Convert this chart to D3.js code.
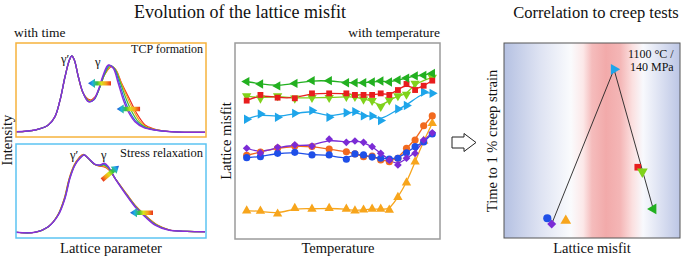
<!DOCTYPE html>
<html>
<head>
<meta charset="utf-8">
<script src="https://cdn.jsdelivr.net/npm/d3@7"></script>
<style>
  body { margin: 0; background: #fff; }
  svg { display: block; }
</style>
</head>
<body>
<div id="chart"></div>
<script>
// ---- data ----
// spectra (x: lattice parameter, relative units; y: intensity, relative units)
const spectraColors = ['#ec2a1e', '#f7a11a', '#3fbf2c', '#2a62e3', '#8a2fd8'];

const topShared = [[0, 5.6], [10, 7.4], [17, 12.8], [20.5, 21.6], [23.2, 39.4], [25.8, 64.1], [28.1, 81.9],
  [29.3, 86.2], [30.7, 81.9], [32.8, 64.1], [35.4, 46.5]];
const topTail = [[81.9, 5.6], [99.5, 5]];
const topGamma = [
  [[38.9, 39.4], [41.6, 42.6], [44.2, 53.5], [46.8, 67], [50.4, 74.8], [52.6, 71.3], [55.6, 57.1], [60, 39.4], [63.5, 25.2], [67.9, 12.8], [70, 10.5], [73.2, 8.2]],
  [[38.7, 38.5], [41.4, 41.2], [44, 52.5], [46.8, 66.8], [50, 75.2], [52.4, 71.8], [55.4, 57.1], [59.2, 39.4], [62.3, 26.4], [65.5, 16], [68.5, 11], [73.2, 8]],
  [[38.5, 38], [41.2, 40.2], [43.8, 51], [46.6, 66.5], [49.5, 75.8], [52, 72.5], [55, 57.1], [58.2, 39.4], [61, 26.9], [64.3, 16.3], [67.8, 10.8], [73.2, 7.6]],
  [[38.3, 37.6], [41, 39.6], [43.6, 50.5], [46.3, 66.5], [49, 76.2], [51.6, 72.8], [54.4, 57.1], [57.2, 39.4], [59.8, 26.9], [63.3, 16.3], [67.4, 10.3], [73.2, 7.4]],
  [[38.1, 37.6], [40.7, 39.4], [43.3, 50], [45.9, 66], [48.6, 76.6], [51.2, 73.1], [53.8, 57.1], [56.5, 39.4], [59.1, 26.9], [62.6, 16.3], [67, 10.3], [73.2, 7.4]]
];

const bottomShared = [[0, 6.1], [10, 6.1], [17, 12]];
const bottomTail = [[90, 7], [99.5, 6.7]];
const bottomCurves = [
  [[22, 24.5], [25.4, 42.2], [28, 63.5], [30.6, 77.7], [33.2, 85.5], [35.4, 89], [37.6, 85.5], [41.2, 78.4], [44, 76.4], [46.5, 75.5], [48.8, 72.5], [52.6, 62], [58, 47.6], [63.4, 33.3], [68.9, 22.7], [74.5, 13.8], [81, 8.5]],
  [[22, 24.5], [25.5, 42.2], [28.1, 63.5], [30.7, 77.7], [33.3, 85.2], [35.5, 88.6], [37.7, 85.2], [41.3, 78.4], [44, 76.7], [46.5, 76.5], [48.8, 73.4], [52.5, 62.5], [57.9, 47.6], [63.2, 33.3], [68.7, 22.7], [74.2, 13.8], [80.8, 8.5]],
  [[22.1, 24.5], [25.6, 42.2], [28.2, 63.5], [30.9, 77.7], [33.5, 85], [35.7, 88.5], [37.9, 85], [41.4, 78.4], [44.1, 77], [46.5, 77.6], [48.7, 74.4], [52.3, 63], [57.7, 47.6], [63, 33.3], [68.4, 22.7], [73.9, 13.8], [80.6, 8.5]],
  [[22.2, 24.5], [25.7, 42.2], [28.3, 63.5], [31, 77.7], [33.6, 84.9], [35.8, 88.4], [38, 84.9], [41.5, 78.4], [44.2, 77.4], [46.5, 78.6], [48.6, 75.2], [52.2, 63.3], [57.5, 47.6], [62.8, 33.3], [68.1, 22.7], [73.5, 13.8], [80.4, 8.5]],
  [[22.3, 24.5], [25.8, 42.2], [28.4, 63.5], [31.1, 77.7], [33.7, 84.8], [35.9, 88.3], [38.1, 84.8], [41.6, 78.4], [44.2, 77.7], [46.5, 79.5], [48.6, 75.9], [52.1, 63.5], [57.4, 47.6], [62.6, 33.3], [67.9, 22.7], [73.2, 13.8], [80.2, 8.5]]
];

// lattice misfit vs temperature (relative units)
const temperatures = [20, 100, 200, 300, 400, 500, 600, 650, 700, 750, 800, 850, 900, 950, 1000, 1050, 1100];
const misfitGreen = [80.3, 79.1, 78.1, 79.4, 80.8, 80.8, 79.7, 79.7, 79.7, 80.1, 80.6, 80.1, 81.1, 82.1, 83.2, 83.5, 84.5];
const misfitRed = [70.6, 73.5, 72.1, 71.8, 74.3, 74.3, 74.3, 73.5, 73.5, 73.5, 74.3, 73.5, 76.0, 79.1, 76.0, 78.2, 80.8];
const misfitLightGreen = [73.0, 71.8, 73.0, 71.8, 72.1, 72.1, 72.6, 72.6, 71.3, 70.6, 67.5, 70.9, 73.0, 73.8, 79.4, null, 82.4];
const misfitLightBlue = [61.1, 63.8, 62.1, 64.1, 65.5, 62.1, 64.4, 65.0, 62.8, 62.8, 60.4, null, 66.3, 68.1, null, 75.0, 74.3];
const misfitPurple = [46.3, 44.0, 46.8, 48.0, 47.4, 50.9, 49.3, 50.0, 49.3, 47.1, 43.7, 40.3, 37.8, 41.2, 43.7, 50.5, 54.2];
const misfitOrange = [42.7, 44.4, 46.4, 47.4, 47.2, 45.9, 44.5, 43.4, 42.0, 42.3, 40.3, 39.4, 41.2, 46.3, 50.5, 57.8, 62.8];
const misfitBlue = [41.5, 42.0, 43.7, 44.2, 42.9, 42.9, 40.7, 43.4, 42.9, 41.8, 41.2, 40.8, 41.2, 44.0, 47.1, 49.5, 53.6];
const misfitAmber = [14.4, 14.3, 12.8, 15.7, 15.3, 15.7, 15.3, 14.4, 14.9, 15.3, 15.3, 14.8, 21.3, 28.7, 39.4, 50.0, 59.0];

const seriesKeys = ['green', 'red', 'lightGreen', 'lightBlue', 'purple', 'orange', 'blue', 'amber'];
const seriesColors = ['#22b020', '#e81d1d', '#80d21b', '#1ea5ea', '#7b2bd6', '#f26a1f', '#1f4fe8', '#f7a51c'];
const seriesShapes = ['left', 'square', 'down', 'right', 'diamond', 'circle', 'circle', 'up'];

// creep: lattice misfit vs time to 1 % creep strain (relative units)
const creepMisfit = [84.8, 76.0, 78.6, 62.5, 27.1, null, 24.6, 35.1];
const creepTime = [14.9, 36.3, 34.0, 86.5, 7.2, null, 10.1, 8.9];
const creepTrend = ['purple', 'lightBlue', 'green'];

// ---- drawing ----
const FONT = "'Liberation Serif', 'Times New Roman', 'DejaVu Serif', serif";
const width = 685, height = 258;
const svg = d3.select('#chart').append('svg')
  .attr('width', width)
  .attr('height', height);
svg.append('rect').attr('width', width).attr('height', height).attr('fill', '#fff');
const defs = svg.append('defs');

function symbolPath (shape, size) {
  const type = { circle: d3.symbolCircle, square: d3.symbolSquare, diamond: d3.symbolSquare }[shape] || d3.symbolTriangle;
  return d3.symbol().type(type).size(size)();
}
function symbolRotate (shape) {
  return { left: -90, right: 90, down: 180, diamond: 45 }[shape] || 0;
}

// ---- spectra panels ----
const xSpec = d3.scaleLinear().domain([0, 100]).range([16, 206]);
const ySpecTop = d3.scaleLinear().domain([0, 100]).range([137, 43]);
const ySpecBottom = d3.scaleLinear().domain([0, 100]).range([238, 144]);

function arrowGradient (id) {
  const g = defs.append('linearGradient').attr('id', id).attr('gradientUnits', 'userSpaceOnUse')
    .attr('x1', 0).attr('x2', 1).attr('y1', 0).attr('y2', 0);
  [['0', '#e8321c'], ['0.22', '#f7a21b'], ['0.42', '#dbe31c'], ['0.6', '#3cc03c'], ['0.8', '#1fb0e0'], ['1', '#1f4fd8']]
    .forEach(s => g.append('stop').attr('offset', s[0]).attr('stop-color', s[1]));
  return g;
}

function drawArrow (g, x1, y1, x2, y2, id) {
  const L = Math.hypot(x2 - x1, y2 - y1);
  const ang = Math.atan2(y2 - y1, x2 - x1) * 180 / Math.PI;
  const grad = arrowGradient(id);
  grad.attr('x2', L);
  const h = 7, w = 4.6, t = 2.2;
  g.append('path')
    .attr('transform', `translate(${x1},${y1}) rotate(${ang})`)
    .attr('d', `M0,${-t}L${L - h},${-t}L${L - h},${-w}L${L},0L${L - h},${w}L${L - h},${t}L0,${t}Z`)
    .attr('fill', `url(#${id})`);
}

function spectraPanel (yScale, curves, border, clipId) {
  const [top, bottom] = [yScale.range()[1], yScale.range()[0]];
  defs.append('clipPath').attr('id', clipId).append('rect')
    .attr('x', 16).attr('y', top).attr('width', 190).attr('height', bottom - top);
  const line = d3.line().x(d => xSpec(d[0])).y(d => yScale(d[1])).curve(d3.curveCatmullRom);
  const g = svg.append('g').attr('clip-path', `url(#${clipId})`);
  g.selectAll('path').data(curves).enter().append('path')
    .attr('d', line)
    .attr('fill', 'none')
    .attr('stroke', (d, i) => spectraColors[i])
    .attr('stroke-width', (d, i) => i === curves.length - 1 ? 1.4 : 1.2)
    .attr('stroke-linejoin', 'round');
  svg.append('rect')
    .attr('x', 16).attr('y', top).attr('width', 190).attr('height', bottom - top)
    .attr('fill', 'none').attr('stroke', border).attr('stroke-width', 1.5);
}

spectraPanel(ySpecTop, topGamma.map(gm => topShared.concat(gm, topTail)), '#f6b33c', 'clipTop');
spectraPanel(ySpecBottom, bottomCurves.map(c => bottomShared.concat(c, bottomTail)), '#5cc4f2', 'clipBottom');

const ann = svg.append('g');
drawArrow(ann, xSpec(50), ySpecTop(57.1), xSpec(37.9), ySpecTop(57.1), 'ar1');
drawArrow(ann, xSpec(65.3), ySpecTop(29.8), xSpec(53), ySpecTop(29.8), 'ar2');
drawArrow(ann, xSpec(45.3), ySpecBottom(61.7), xSpec(54.2), ySpecBottom(76.9), 'ar3');
drawArrow(ann, xSpec(72.1), ySpecBottom(26.9), xSpec(60), ySpecBottom(26.9), 'ar4');

function label (x, y, text, size, anchor, rotate) {
  const t = svg.append('text')
    .attr('x', x).attr('y', y)
    .attr('font-family', FONT)
    .attr('font-size', size + 'px')
    .attr('fill', '#111')
    .attr('text-anchor', anchor || 'start')
    .text(text);
  if (rotate) t.attr('transform', `rotate(${rotate},${x},${y})`);
  return t;
}

label(61, 63, 'γ′', 12.5);
label(95, 66, 'γ', 12.5);
label(203, 53, 'TCP formation', 12, 'end');
label(70, 159, 'γ′', 12.5);
label(101, 159, 'γ', 12.5);
label(203, 157, 'Stress relaxation', 12.5, 'end');

// ---- misfit vs temperature ----
const xT = d3.scaleLinear().domain([-48, 1145]).range([235, 440]);
const yM = d3.scaleLinear().domain([0, 100]).range([239, 43]);
const misfitSeries = [misfitGreen, misfitRed, misfitLightGreen, misfitLightBlue, misfitPurple, misfitOrange, misfitBlue, misfitAmber]
  .map((vals, i) => ({
    key: seriesKeys[i],
    color: seriesColors[i],
    shape: seriesShapes[i],
    points: temperatures.map((t, j) => ({ t: t, v: vals[j] })).filter(p => p.v !== null)
  }));
const drawOrder = [7, 5, 6, 4, 3, 2, 1, 0];

svg.append('rect')
  .attr('x', 235).attr('y', 43).attr('width', 205).attr('height', 196)
  .attr('fill', '#fff').attr('stroke', '#9b9b9b').attr('stroke-width', 1.5);

const mLine = d3.line().x(d => xT(d.t)).y(d => yM(d.v)).curve(d3.curveBasis);
const mG = svg.append('g');
drawOrder.forEach(i => {
  const s = misfitSeries[i];
  mG.append('path')
    .attr('d', mLine(s.points))
    .attr('fill', 'none')
    .attr('stroke', s.color)
    .attr('stroke-width', 1.3);
});
drawOrder.forEach(i => {
  const s = misfitSeries[i];
  const sz = s.shape === 'circle' ? 40 : s.shape === 'square' ? 34 : s.shape === 'diamond' ? 30 : 38;
  mG.selectAll(null).data(s.points).enter().append('path')
    .attr('d', symbolPath(s.shape, sz))
    .attr('transform', d => `translate(${xT(d.t)},${yM(d.v)}) rotate(${symbolRotate(s.shape)})`)
    .attr('fill', s.color);
});

// ---- creep correlation ----
const xC = d3.scaleLinear().domain([0, 100]).range([504, 680]);
const yC = d3.scaleLinear().domain([0, 100]).range([238, 43]);
const bg = defs.append('linearGradient').attr('id', 'creepBg').attr('x1', 0).attr('x2', 1).attr('y1', 0).attr('y2', 0);
[['0', '#b5c1e2'], ['0.2', '#dde2f2'], ['0.38', '#fafbfd'], ['0.45', '#fce8e8'], ['0.5', '#f5bcbc'],
  ['0.58', '#f2aaaa'], ['0.66', '#f4b6b6'], ['0.73', '#fbe0e0'], ['0.79', '#f8f9fd'], ['1', '#bcc6e5']]
  .forEach(s => bg.append('stop').attr('offset', s[0]).attr('stop-color', s[1]));

svg.append('rect')
  .attr('x', 504).attr('y', 43).attr('width', 176).attr('height', 195)
  .attr('fill', 'url(#creepBg)').attr('stroke', '#555').attr('stroke-width', 1);

const creepPts = seriesKeys.map((k, i) => ({
  key: k, color: seriesColors[i], shape: seriesShapes[i], m: creepMisfit[i], t: creepTime[i]
})).filter(d => d.m !== null);

const trendPts = creepTrend.map(k => creepPts.find(d => d.key === k));
svg.append('path')
  .attr('d', d3.line().x(d => xC(d.m)).y(d => yC(d.t))(trendPts))
  .attr('fill', 'none')
  .attr('stroke', '#222')
  .attr('stroke-width', 0.9);

svg.append('g').selectAll('path').data(creepPts).enter().append('path')
  .attr('d', d => symbolPath(d.shape, d.shape === 'circle' ? 52 : d.shape === 'square' ? 44 : d.shape === 'diamond' ? 40 : 50))
  .attr('transform', d => `translate(${xC(d.m)},${yC(d.t)}) rotate(${symbolRotate(d.shape)})`)
  .attr('fill', d => d.color);

label(628, 58, '1100 °C /', 12);
label(630, 71, '140 MPa', 12);

// big outline arrow
svg.append('path')
  .attr('d', 'M452,137L464,137L464,133.5L476,142.5L464,151.5L464,148L452,148Z')
  .attr('fill', '#fff').attr('stroke', '#222').attr('stroke-width', 1);

// ---- titles and axis labels ----
label(240, 18, 'Evolution of the lattice misfit', 18, 'middle');
label(596, 18, 'Correlation to creep tests', 16.5, 'middle');
label(14, 37, 'with time', 13.5);
label(440, 37, 'with temperature', 13.5, 'end');
label(12, 140, 'Intensity', 14.5, 'middle', -90);
label(111, 253, 'Lattice parameter', 14.5, 'middle');
label(231, 141, 'Lattice misfit', 14.5, 'middle', -90);
label(338, 253, 'Temperature', 14.5, 'middle');
label(497, 141, 'Time to 1 % creep strain', 14.5, 'middle', -90);
label(592, 253, 'Lattice misfit', 14.5, 'middle');
</script>
</body>
</html>
